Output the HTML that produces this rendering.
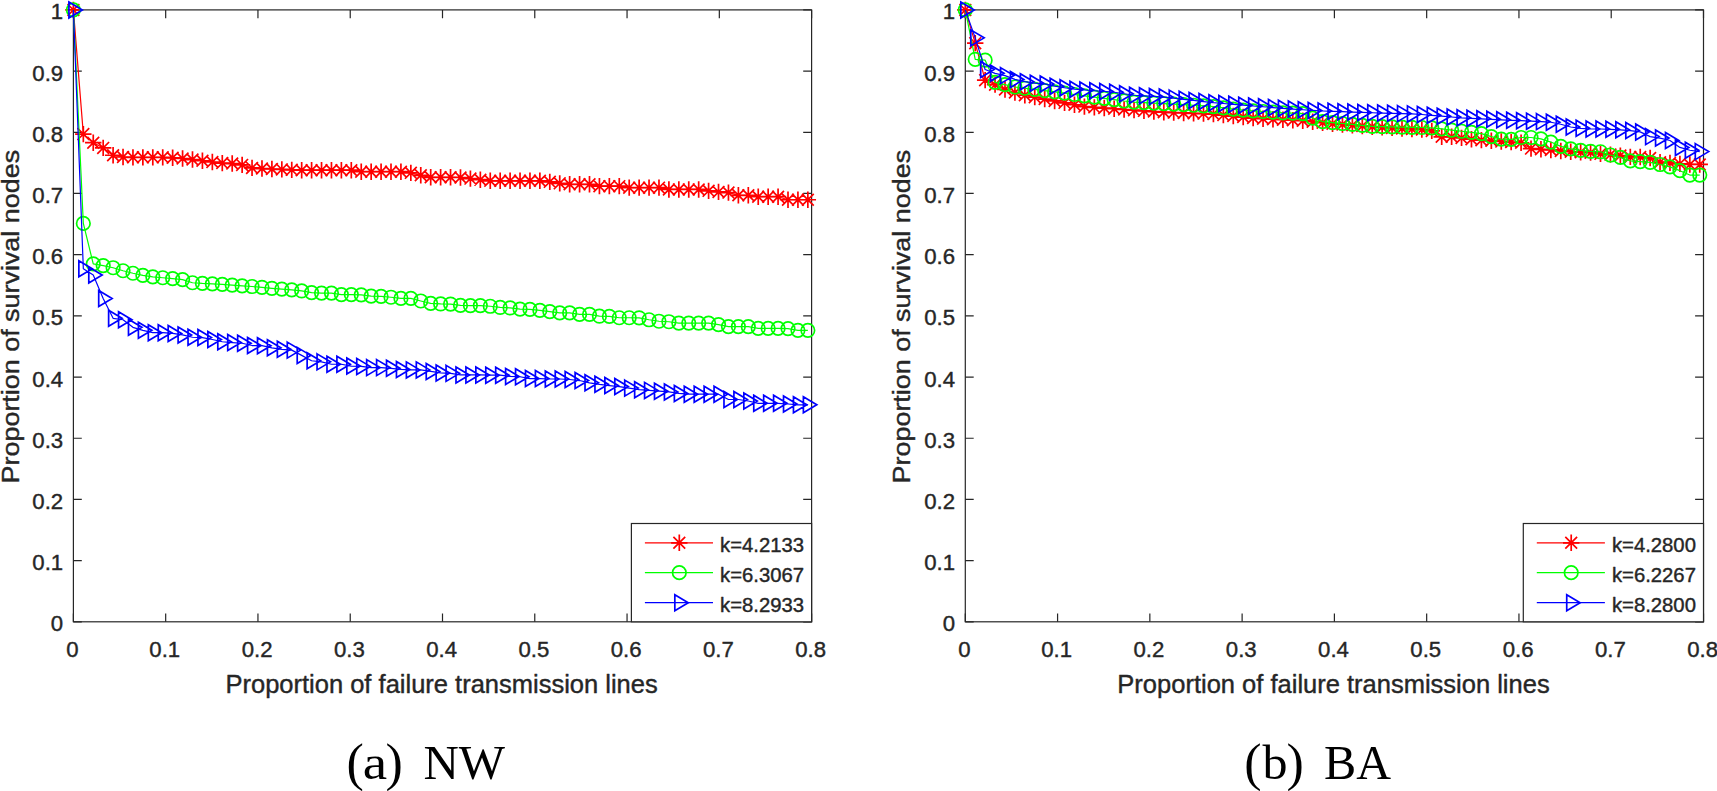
<!DOCTYPE html>
<html lang="en">
<head>
<meta charset="utf-8">
<title>Proportion of survival nodes vs. proportion of failure transmission lines</title>
<style>
html,body{margin:0;padding:0;background:#fff;}
body{width:1717px;height:791px;overflow:hidden;}
svg{display:block;}
.ax text{stroke:#262626;stroke-width:0.4px;paint-order:stroke;stroke-linejoin:round;}
</style>
</head>
<body>
<svg width="1717" height="791" viewBox="0 0 1717 791" font-family="'Liberation Sans', sans-serif">
<rect width="1717" height="791" fill="#fff"/>
<g id="chart-a" class="ax">
<rect x="73.4" y="9.9" width="738.2" height="611.9" fill="none" stroke="#262626" stroke-width="1.2"/>
<path d="M73.4 621.8v-8.4 M73.4 9.9v8.4 M165.68 621.8v-8.4 M165.68 9.9v8.4 M257.95 621.8v-8.4 M257.95 9.9v8.4 M350.23 621.8v-8.4 M350.23 9.9v8.4 M442.5 621.8v-8.4 M442.5 9.9v8.4 M534.77 621.8v-8.4 M534.77 9.9v8.4 M627.05 621.8v-8.4 M627.05 9.9v8.4 M719.33 621.8v-8.4 M719.33 9.9v8.4 M811.6 621.8v-8.4 M811.6 9.9v8.4 M73.4 621.8h8.4 M811.6 621.8h-8.4 M73.4 560.61h8.4 M811.6 560.61h-8.4 M73.4 499.42h8.4 M811.6 499.42h-8.4 M73.4 438.23h8.4 M811.6 438.23h-8.4 M73.4 377.04h8.4 M811.6 377.04h-8.4 M73.4 315.85h8.4 M811.6 315.85h-8.4 M73.4 254.66h8.4 M811.6 254.66h-8.4 M73.4 193.47h8.4 M811.6 193.47h-8.4 M73.4 132.28h8.4 M811.6 132.28h-8.4 M73.4 71.09h8.4 M811.6 71.09h-8.4 M73.4 9.9h8.4 M811.6 9.9h-8.4" stroke="#262626" stroke-width="1.2" fill="none"/>
<polyline points="73.4,9.9 83.33,134.12 93.25,142.68 103.18,147.88 113.1,155.23 123.03,157 132.95,157.37 142.88,157.37 152.8,157.37 162.73,157.37 172.65,157.82 182.58,158.48 192.5,159.57 202.43,160.76 212.35,161.98 222.28,163.11 232.2,163.53 242.13,164.88 252.05,167.9 261.98,168.55 271.9,168.99 281.83,169.42 291.75,169.86 301.68,170.22 311.6,170.22 321.53,170.22 331.45,170.22 341.38,170.22 351.3,170.22 361.23,171.69 371.15,171.69 381.08,171.69 391,171.69 400.93,171.69 410.85,172.87 420.77,175.3 430.7,177.32 440.62,177.32 450.55,177.32 460.48,177.48 470.4,178.6 480.33,179.72 490.25,180.8 500.18,180.8 510.1,180.8 520.03,180.8 529.95,180.8 539.88,180.8 549.8,181.83 559.73,183.37 569.65,184.29 579.58,184.29 589.5,184.29 599.43,186.13 609.35,186.13 619.27,186.13 629.2,187.66 639.12,187.66 649.05,187.66 658.98,187.66 668.9,189.43 678.83,189.43 688.75,189.43 698.68,189.43 708.6,190.84 718.52,191.88 728.45,192.59 738.38,195.31 748.3,195.31 758.23,196.71 768.15,196.71 778.08,196.71 788,199.77 797.93,199.77 807.85,199.77" fill="none" stroke="#f00" stroke-width="1.2" stroke-linejoin="round"/>
<path d="M65.2 9.9H81.6M73.4 1.7V18.1M67.5 4L79.3 15.8M67.5 15.8L79.3 4 M75.12 134.12H91.53M83.33 125.92V142.32M77.42 128.22L89.23 140.02M77.42 140.02L89.23 128.22 M85.05 142.68H101.45M93.25 134.48V150.88M87.35 136.78L99.15 148.58M87.35 148.58L99.15 136.78 M94.98 147.88H111.38M103.18 139.68V156.08M97.28 141.98L109.08 153.78M97.28 153.78L109.08 141.98 M104.9 155.23H121.3M113.1 147.03V163.43M107.2 149.33L119 161.13M107.2 161.13L119 149.33 M114.83 157H131.22M123.03 148.8V165.2M117.12 151.1L128.93 162.9M117.12 162.9L128.93 151.1 M124.75 157.37H141.15M132.95 149.17V165.57M127.05 151.47L138.85 163.27M127.05 163.27L138.85 151.47 M134.68 157.37H151.07M142.88 149.17V165.57M136.97 151.47L148.78 163.27M136.97 163.27L148.78 151.47 M144.6 157.37H161M152.8 149.17V165.57M146.9 151.47L158.7 163.27M146.9 163.27L158.7 151.47 M154.53 157.37H170.93M162.73 149.17V165.57M156.83 151.47L168.63 163.27M156.83 163.27L168.63 151.47 M164.45 157.82H180.85M172.65 149.62V166.02M166.75 151.92L178.55 163.72M166.75 163.72L178.55 151.92 M174.38 158.48H190.78M182.58 150.28V166.68M176.68 152.58L188.48 164.38M176.68 164.38L188.48 152.58 M184.3 159.57H200.7M192.5 151.37V167.77M186.6 153.67L198.4 165.47M186.6 165.47L198.4 153.67 M194.23 160.76H210.62M202.43 152.56V168.96M196.53 154.86L208.33 166.66M196.53 166.66L208.33 154.86 M204.15 161.98H220.55M212.35 153.78V170.18M206.45 156.08L218.25 167.88M206.45 167.88L218.25 156.08 M214.08 163.11H230.47M222.28 154.91V171.31M216.38 157.21L228.18 169.01M216.38 169.01L228.18 157.21 M224 163.53H240.4M232.2 155.33V171.73M226.3 157.63L238.1 169.43M226.3 169.43L238.1 157.63 M233.93 164.88H250.33M242.13 156.68V173.08M236.23 158.98L248.03 170.78M236.23 170.78L248.03 158.98 M243.85 167.9H260.25M252.05 159.7V176.1M246.15 162L257.95 173.8M246.15 173.8L257.95 162 M253.78 168.55H270.18M261.98 160.35V176.75M256.08 162.65L267.88 174.45M256.08 174.45L267.88 162.65 M263.7 168.99H280.1M271.9 160.79V177.19M266 163.09L277.8 174.89M266 174.89L277.8 163.09 M273.63 169.42H290.03M281.83 161.22V177.62M275.93 163.52L287.73 175.32M275.93 175.32L287.73 163.52 M283.55 169.86H299.95M291.75 161.66V178.06M285.85 163.96L297.65 175.76M285.85 175.76L297.65 163.96 M293.48 170.22H309.88M301.68 162.02V178.42M295.78 164.32L307.57 176.12M295.78 176.12L307.57 164.32 M303.4 170.22H319.8M311.6 162.02V178.42M305.7 164.32L317.5 176.12M305.7 176.12L317.5 164.32 M313.33 170.22H329.73M321.53 162.02V178.42M315.63 164.32L327.43 176.12M315.63 176.12L327.43 164.32 M323.25 170.22H339.65M331.45 162.02V178.42M325.55 164.32L337.35 176.12M325.55 176.12L337.35 164.32 M333.18 170.22H349.57M341.38 162.02V178.42M335.48 164.32L347.27 176.12M335.48 176.12L347.27 164.32 M343.1 170.22H359.5M351.3 162.02V178.42M345.4 164.32L357.2 176.12M345.4 176.12L357.2 164.32 M353.03 171.69H369.43M361.23 163.49V179.89M355.33 165.79L367.12 177.59M355.33 177.59L367.12 165.79 M362.95 171.69H379.35M371.15 163.49V179.89M365.25 165.79L377.05 177.59M365.25 177.59L377.05 165.79 M372.88 171.69H389.28M381.08 163.49V179.89M375.18 165.79L386.98 177.59M375.18 177.59L386.98 165.79 M382.8 171.69H399.2M391 163.49V179.89M385.1 165.79L396.9 177.59M385.1 177.59L396.9 165.79 M392.73 171.69H409.13M400.93 163.49V179.89M395.03 165.79L406.83 177.59M395.03 177.59L406.83 165.79 M402.65 172.87H419.05M410.85 164.67V181.07M404.95 166.97L416.75 178.77M404.95 178.77L416.75 166.97 M412.57 175.3H428.97M420.77 167.1V183.5M414.88 169.4L426.67 181.2M414.88 181.2L426.67 169.4 M422.5 177.32H438.9M430.7 169.12V185.52M424.8 171.42L436.6 183.22M424.8 183.22L436.6 171.42 M432.43 177.32H448.82M440.62 169.12V185.52M434.73 171.42L446.52 183.22M434.73 183.22L446.52 171.42 M442.35 177.32H458.75M450.55 169.12V185.52M444.65 171.42L456.45 183.22M444.65 183.22L456.45 171.42 M452.28 177.48H468.68M460.48 169.28V185.68M454.58 171.58L466.38 183.38M454.58 183.38L466.38 171.58 M462.2 178.6H478.6M470.4 170.4V186.8M464.5 172.7L476.3 184.5M464.5 184.5L476.3 172.7 M472.13 179.72H488.53M480.33 171.52V187.92M474.43 173.82L486.23 185.62M474.43 185.62L486.23 173.82 M482.05 180.8H498.45M490.25 172.6V189M484.35 174.9L496.15 186.7M484.35 186.7L496.15 174.9 M491.98 180.8H508.38M500.18 172.6V189M494.28 174.9L506.08 186.7M494.28 186.7L506.08 174.9 M501.9 180.8H518.3M510.1 172.6V189M504.2 174.9L516 186.7M504.2 186.7L516 174.9 M511.83 180.8H528.23M520.03 172.6V189M514.13 174.9L525.93 186.7M514.13 186.7L525.93 174.9 M521.75 180.8H538.15M529.95 172.6V189M524.05 174.9L535.85 186.7M524.05 186.7L535.85 174.9 M531.67 180.8H548.08M539.88 172.6V189M533.98 174.9L545.77 186.7M533.98 186.7L545.77 174.9 M541.6 181.83H558M549.8 173.63V190.03M543.9 175.93L555.7 187.73M543.9 187.73L555.7 175.93 M551.52 183.37H567.93M559.73 175.17V191.57M553.83 177.47L565.62 189.27M553.83 189.27L565.62 177.47 M561.45 184.29H577.85M569.65 176.09V192.49M563.75 178.39L575.55 190.19M563.75 190.19L575.55 178.39 M571.38 184.29H587.78M579.58 176.09V192.49M573.68 178.39L585.48 190.19M573.68 190.19L585.48 178.39 M581.3 184.29H597.7M589.5 176.09V192.49M583.6 178.39L595.4 190.19M583.6 190.19L595.4 178.39 M591.23 186.13H607.63M599.43 177.93V194.33M593.53 180.23L605.33 192.03M593.53 192.03L605.33 180.23 M601.15 186.13H617.55M609.35 177.93V194.33M603.45 180.23L615.25 192.03M603.45 192.03L615.25 180.23 M611.07 186.13H627.48M619.27 177.93V194.33M613.38 180.23L625.17 192.03M613.38 192.03L625.17 180.23 M621 187.66H637.4M629.2 179.46V195.86M623.3 181.76L635.1 193.56M623.3 193.56L635.1 181.76 M630.92 187.66H647.33M639.12 179.46V195.86M633.23 181.76L645.02 193.56M633.23 193.56L645.02 181.76 M640.85 187.66H657.25M649.05 179.46V195.86M643.15 181.76L654.95 193.56M643.15 193.56L654.95 181.76 M650.77 187.66H667.18M658.98 179.46V195.86M653.08 181.76L664.88 193.56M653.08 193.56L664.88 181.76 M660.7 189.43H677.1M668.9 181.23V197.63M663 183.53L674.8 195.33M663 195.33L674.8 183.53 M670.62 189.43H687.03M678.83 181.23V197.63M672.93 183.53L684.73 195.33M672.93 195.33L684.73 183.53 M680.55 189.43H696.95M688.75 181.23V197.63M682.85 183.53L694.65 195.33M682.85 195.33L694.65 183.53 M690.48 189.43H706.88M698.68 181.23V197.63M692.78 183.53L704.58 195.33M692.78 195.33L704.58 183.53 M700.4 190.84H716.8M708.6 182.64V199.04M702.7 184.94L714.5 196.74M702.7 196.74L714.5 184.94 M710.32 191.88H726.73M718.52 183.68V200.08M712.62 185.98L724.42 197.78M712.62 197.78L724.42 185.98 M720.25 192.59H736.65M728.45 184.39V200.79M722.55 186.69L734.35 198.49M722.55 198.49L734.35 186.69 M730.17 195.31H746.58M738.38 187.11V203.51M732.48 189.41L744.27 201.21M732.48 201.21L744.27 189.41 M740.1 195.31H756.5M748.3 187.11V203.51M742.4 189.41L754.2 201.21M742.4 201.21L754.2 189.41 M750.02 196.71H766.43M758.23 188.51V204.91M752.33 190.81L764.12 202.61M752.33 202.61L764.12 190.81 M759.95 196.71H776.35M768.15 188.51V204.91M762.25 190.81L774.05 202.61M762.25 202.61L774.05 190.81 M769.88 196.71H786.28M778.08 188.51V204.91M772.18 190.81L783.98 202.61M772.18 202.61L783.98 190.81 M779.8 199.77H796.2M788 191.57V207.97M782.1 193.87L793.9 205.67M782.1 205.67L793.9 193.87 M789.73 199.77H806.13M797.93 191.57V207.97M792.03 193.87L803.83 205.67M792.03 205.67L803.83 193.87 M799.65 199.77H816.05M807.85 191.57V207.97M801.95 193.87L813.75 205.67M801.95 205.67L813.75 193.87" fill="none" stroke="#f00" stroke-width="1.7" stroke-linejoin="miter"/>
<polyline points="73.4,9.9 83.33,223.45 93.25,263.87 103.18,265.6 113.1,267.73 123.03,270.75 132.95,273.25 142.88,275.45 152.8,276.86 162.73,277.75 172.65,278.69 182.58,279.59 192.5,282.75 202.43,283.41 212.35,283.83 222.28,284.3 232.2,285.09 242.13,285.85 252.05,286.51 261.98,287.29 271.9,288.28 281.83,289.16 291.75,289.95 301.68,290.96 311.6,292.56 321.53,293.06 331.45,293.09 341.38,294.56 351.3,294.56 361.23,294.82 371.15,296.18 381.08,296.45 391,297.23 400.93,298.41 410.85,298.41 420.77,300.98 430.7,303.37 440.62,303.97 450.55,304.04 460.48,305.45 470.4,305.57 480.33,305.61 490.25,306.27 500.18,307.47 510.1,307.95 520.03,309.06 529.95,309.42 539.88,310.44 549.8,311.62 559.73,312.88 569.65,312.95 579.58,314.44 589.5,314.44 599.43,316.21 609.35,316.39 619.27,317.75 629.2,317.75 639.12,317.79 649.05,319.76 658.98,321.23 668.9,321.73 678.83,323.07 688.75,323.07 698.68,323.07 708.6,323.1 718.52,324.59 728.45,326.56 738.38,326.56 748.3,326.67 758.23,328.39 768.15,328.39 778.08,328.39 788,328.59 797.93,330.35 807.85,330.35" fill="none" stroke="#0f0" stroke-width="1.2" stroke-linejoin="round"/>
<path d="M66.65 9.9a6.75 6.75 0 1 0 13.5 0a6.75 6.75 0 1 0 -13.5 0z M76.58 223.45a6.75 6.75 0 1 0 13.5 0a6.75 6.75 0 1 0 -13.5 0z M86.5 263.87a6.75 6.75 0 1 0 13.5 0a6.75 6.75 0 1 0 -13.5 0z M96.43 265.6a6.75 6.75 0 1 0 13.5 0a6.75 6.75 0 1 0 -13.5 0z M106.35 267.73a6.75 6.75 0 1 0 13.5 0a6.75 6.75 0 1 0 -13.5 0z M116.28 270.75a6.75 6.75 0 1 0 13.5 0a6.75 6.75 0 1 0 -13.5 0z M126.2 273.25a6.75 6.75 0 1 0 13.5 0a6.75 6.75 0 1 0 -13.5 0z M136.12 275.45a6.75 6.75 0 1 0 13.5 0a6.75 6.75 0 1 0 -13.5 0z M146.05 276.86a6.75 6.75 0 1 0 13.5 0a6.75 6.75 0 1 0 -13.5 0z M155.98 277.75a6.75 6.75 0 1 0 13.5 0a6.75 6.75 0 1 0 -13.5 0z M165.9 278.69a6.75 6.75 0 1 0 13.5 0a6.75 6.75 0 1 0 -13.5 0z M175.83 279.59a6.75 6.75 0 1 0 13.5 0a6.75 6.75 0 1 0 -13.5 0z M185.75 282.75a6.75 6.75 0 1 0 13.5 0a6.75 6.75 0 1 0 -13.5 0z M195.68 283.41a6.75 6.75 0 1 0 13.5 0a6.75 6.75 0 1 0 -13.5 0z M205.6 283.83a6.75 6.75 0 1 0 13.5 0a6.75 6.75 0 1 0 -13.5 0z M215.53 284.3a6.75 6.75 0 1 0 13.5 0a6.75 6.75 0 1 0 -13.5 0z M225.45 285.09a6.75 6.75 0 1 0 13.5 0a6.75 6.75 0 1 0 -13.5 0z M235.38 285.85a6.75 6.75 0 1 0 13.5 0a6.75 6.75 0 1 0 -13.5 0z M245.3 286.51a6.75 6.75 0 1 0 13.5 0a6.75 6.75 0 1 0 -13.5 0z M255.23 287.29a6.75 6.75 0 1 0 13.5 0a6.75 6.75 0 1 0 -13.5 0z M265.15 288.28a6.75 6.75 0 1 0 13.5 0a6.75 6.75 0 1 0 -13.5 0z M275.08 289.16a6.75 6.75 0 1 0 13.5 0a6.75 6.75 0 1 0 -13.5 0z M285 289.95a6.75 6.75 0 1 0 13.5 0a6.75 6.75 0 1 0 -13.5 0z M294.93 290.96a6.75 6.75 0 1 0 13.5 0a6.75 6.75 0 1 0 -13.5 0z M304.85 292.56a6.75 6.75 0 1 0 13.5 0a6.75 6.75 0 1 0 -13.5 0z M314.78 293.06a6.75 6.75 0 1 0 13.5 0a6.75 6.75 0 1 0 -13.5 0z M324.7 293.09a6.75 6.75 0 1 0 13.5 0a6.75 6.75 0 1 0 -13.5 0z M334.62 294.56a6.75 6.75 0 1 0 13.5 0a6.75 6.75 0 1 0 -13.5 0z M344.55 294.56a6.75 6.75 0 1 0 13.5 0a6.75 6.75 0 1 0 -13.5 0z M354.48 294.82a6.75 6.75 0 1 0 13.5 0a6.75 6.75 0 1 0 -13.5 0z M364.4 296.18a6.75 6.75 0 1 0 13.5 0a6.75 6.75 0 1 0 -13.5 0z M374.33 296.45a6.75 6.75 0 1 0 13.5 0a6.75 6.75 0 1 0 -13.5 0z M384.25 297.23a6.75 6.75 0 1 0 13.5 0a6.75 6.75 0 1 0 -13.5 0z M394.18 298.41a6.75 6.75 0 1 0 13.5 0a6.75 6.75 0 1 0 -13.5 0z M404.1 298.41a6.75 6.75 0 1 0 13.5 0a6.75 6.75 0 1 0 -13.5 0z M414.02 300.98a6.75 6.75 0 1 0 13.5 0a6.75 6.75 0 1 0 -13.5 0z M423.95 303.37a6.75 6.75 0 1 0 13.5 0a6.75 6.75 0 1 0 -13.5 0z M433.88 303.97a6.75 6.75 0 1 0 13.5 0a6.75 6.75 0 1 0 -13.5 0z M443.8 304.04a6.75 6.75 0 1 0 13.5 0a6.75 6.75 0 1 0 -13.5 0z M453.73 305.45a6.75 6.75 0 1 0 13.5 0a6.75 6.75 0 1 0 -13.5 0z M463.65 305.57a6.75 6.75 0 1 0 13.5 0a6.75 6.75 0 1 0 -13.5 0z M473.58 305.61a6.75 6.75 0 1 0 13.5 0a6.75 6.75 0 1 0 -13.5 0z M483.5 306.27a6.75 6.75 0 1 0 13.5 0a6.75 6.75 0 1 0 -13.5 0z M493.43 307.47a6.75 6.75 0 1 0 13.5 0a6.75 6.75 0 1 0 -13.5 0z M503.35 307.95a6.75 6.75 0 1 0 13.5 0a6.75 6.75 0 1 0 -13.5 0z M513.28 309.06a6.75 6.75 0 1 0 13.5 0a6.75 6.75 0 1 0 -13.5 0z M523.2 309.42a6.75 6.75 0 1 0 13.5 0a6.75 6.75 0 1 0 -13.5 0z M533.12 310.44a6.75 6.75 0 1 0 13.5 0a6.75 6.75 0 1 0 -13.5 0z M543.05 311.62a6.75 6.75 0 1 0 13.5 0a6.75 6.75 0 1 0 -13.5 0z M552.98 312.88a6.75 6.75 0 1 0 13.5 0a6.75 6.75 0 1 0 -13.5 0z M562.9 312.95a6.75 6.75 0 1 0 13.5 0a6.75 6.75 0 1 0 -13.5 0z M572.83 314.44a6.75 6.75 0 1 0 13.5 0a6.75 6.75 0 1 0 -13.5 0z M582.75 314.44a6.75 6.75 0 1 0 13.5 0a6.75 6.75 0 1 0 -13.5 0z M592.68 316.21a6.75 6.75 0 1 0 13.5 0a6.75 6.75 0 1 0 -13.5 0z M602.6 316.39a6.75 6.75 0 1 0 13.5 0a6.75 6.75 0 1 0 -13.5 0z M612.52 317.75a6.75 6.75 0 1 0 13.5 0a6.75 6.75 0 1 0 -13.5 0z M622.45 317.75a6.75 6.75 0 1 0 13.5 0a6.75 6.75 0 1 0 -13.5 0z M632.38 317.79a6.75 6.75 0 1 0 13.5 0a6.75 6.75 0 1 0 -13.5 0z M642.3 319.76a6.75 6.75 0 1 0 13.5 0a6.75 6.75 0 1 0 -13.5 0z M652.23 321.23a6.75 6.75 0 1 0 13.5 0a6.75 6.75 0 1 0 -13.5 0z M662.15 321.73a6.75 6.75 0 1 0 13.5 0a6.75 6.75 0 1 0 -13.5 0z M672.08 323.07a6.75 6.75 0 1 0 13.5 0a6.75 6.75 0 1 0 -13.5 0z M682 323.07a6.75 6.75 0 1 0 13.5 0a6.75 6.75 0 1 0 -13.5 0z M691.93 323.07a6.75 6.75 0 1 0 13.5 0a6.75 6.75 0 1 0 -13.5 0z M701.85 323.1a6.75 6.75 0 1 0 13.5 0a6.75 6.75 0 1 0 -13.5 0z M711.77 324.59a6.75 6.75 0 1 0 13.5 0a6.75 6.75 0 1 0 -13.5 0z M721.7 326.56a6.75 6.75 0 1 0 13.5 0a6.75 6.75 0 1 0 -13.5 0z M731.62 326.56a6.75 6.75 0 1 0 13.5 0a6.75 6.75 0 1 0 -13.5 0z M741.55 326.67a6.75 6.75 0 1 0 13.5 0a6.75 6.75 0 1 0 -13.5 0z M751.48 328.39a6.75 6.75 0 1 0 13.5 0a6.75 6.75 0 1 0 -13.5 0z M761.4 328.39a6.75 6.75 0 1 0 13.5 0a6.75 6.75 0 1 0 -13.5 0z M771.33 328.39a6.75 6.75 0 1 0 13.5 0a6.75 6.75 0 1 0 -13.5 0z M781.25 328.59a6.75 6.75 0 1 0 13.5 0a6.75 6.75 0 1 0 -13.5 0z M791.18 330.35a6.75 6.75 0 1 0 13.5 0a6.75 6.75 0 1 0 -13.5 0z M801.1 330.35a6.75 6.75 0 1 0 13.5 0a6.75 6.75 0 1 0 -13.5 0z" fill="none" stroke="#0f0" stroke-width="1.7" stroke-linejoin="miter"/>
<polyline points="73.4,9.9 83.33,268.73 93.25,275.04 103.18,298.59 113.1,318.3 123.03,319.77 132.95,327.35 142.88,330.35 152.8,332.68 162.73,332.68 172.65,333.41 182.58,334.94 192.5,337.27 202.43,337.57 212.35,339.47 222.28,341.73 232.2,342.53 242.13,343.26 252.05,345.53 261.98,345.71 271.9,347.79 281.83,349.32 291.75,350.12 301.68,355.38 311.6,360.76 321.53,361.86 331.45,364.25 341.38,364.25 351.3,366.09 361.23,366.39 371.15,367.62 381.08,367.62 391,368.35 400.93,369.45 410.85,369.88 420.77,369.88 430.7,371.41 440.62,372.94 450.55,373.37 460.48,374.9 470.4,374.9 480.33,374.9 490.25,375.2 500.18,375.2 510.1,376.43 520.03,376.73 529.95,378.57 539.88,378.57 549.8,379 559.73,379 569.65,379.49 579.58,380.53 589.5,382.79 599.43,384.32 609.35,385.55 619.27,386.59 629.2,388.12 639.12,389.65 649.05,390.38 658.98,391.17 668.9,391.91 678.83,393.44 688.75,394.17 698.68,394.17 708.6,394.17 718.52,394.17 728.45,399.5 738.38,399.5 748.3,401.03 758.23,403.29 768.15,403.29 778.08,403.29 788,404.02 797.93,404.82 807.85,404.82" fill="none" stroke="#00f" stroke-width="1.2" stroke-linejoin="round"/>
<path d="M68.93 1.9L82.33 9.9L68.93 17.9Z M78.86 260.73L92.26 268.73L78.86 276.73Z M88.78 267.04L102.18 275.04L88.78 283.04Z M98.71 290.59L112.11 298.59L98.71 306.59Z M108.63 310.3L122.03 318.3L108.63 326.3Z M118.56 311.77L131.96 319.77L118.56 327.77Z M128.48 319.35L141.88 327.35L128.48 335.35Z M138.41 322.35L151.81 330.35L138.41 338.35Z M148.33 324.68L161.73 332.68L148.33 340.68Z M158.26 324.68L171.66 332.68L158.26 340.68Z M168.18 325.41L181.58 333.41L168.18 341.41Z M178.11 326.94L191.51 334.94L178.11 342.94Z M188.03 329.27L201.43 337.27L188.03 345.27Z M197.96 329.57L211.36 337.57L197.96 345.57Z M207.88 331.47L221.28 339.47L207.88 347.47Z M217.81 333.73L231.21 341.73L217.81 349.73Z M227.73 334.53L241.13 342.53L227.73 350.53Z M237.66 335.26L251.06 343.26L237.66 351.26Z M247.58 337.53L260.98 345.53L247.58 353.53Z M257.51 337.71L270.91 345.71L257.51 353.71Z M267.43 339.79L280.83 347.79L267.43 355.79Z M277.36 341.32L290.76 349.32L277.36 357.32Z M287.28 342.12L300.68 350.12L287.28 358.12Z M297.21 347.38L310.61 355.38L297.21 363.38Z M307.13 352.76L320.53 360.76L307.13 368.76Z M317.06 353.86L330.46 361.86L317.06 369.86Z M326.98 356.25L340.38 364.25L326.98 372.25Z M336.91 356.25L350.31 364.25L336.91 372.25Z M346.83 358.09L360.23 366.09L346.83 374.09Z M356.76 358.39L370.16 366.39L356.76 374.39Z M366.68 359.62L380.08 367.62L366.68 375.62Z M376.61 359.62L390.01 367.62L376.61 375.62Z M386.53 360.35L399.93 368.35L386.53 376.35Z M396.46 361.45L409.86 369.45L396.46 377.45Z M406.38 361.88L419.78 369.88L406.38 377.88Z M416.31 361.88L429.71 369.88L416.31 377.88Z M426.23 363.41L439.63 371.41L426.23 379.41Z M436.16 364.94L449.56 372.94L436.16 380.94Z M446.08 365.37L459.48 373.37L446.08 381.37Z M456.01 366.9L469.41 374.9L456.01 382.9Z M465.93 366.9L479.33 374.9L465.93 382.9Z M475.86 366.9L489.26 374.9L475.86 382.9Z M485.78 367.2L499.18 375.2L485.78 383.2Z M495.71 367.2L509.11 375.2L495.71 383.2Z M505.63 368.43L519.03 376.43L505.63 384.43Z M515.56 368.73L528.96 376.73L515.56 384.73Z M525.48 370.57L538.88 378.57L525.48 386.57Z M535.41 370.57L548.81 378.57L535.41 386.57Z M545.33 371L558.73 379L545.33 387Z M555.26 371L568.66 379L555.26 387Z M565.18 371.49L578.58 379.49L565.18 387.49Z M575.11 372.53L588.51 380.53L575.11 388.53Z M585.03 374.79L598.43 382.79L585.03 390.79Z M594.96 376.32L608.36 384.32L594.96 392.32Z M604.88 377.55L618.28 385.55L604.88 393.55Z M614.81 378.59L628.21 386.59L614.81 394.59Z M624.73 380.12L638.13 388.12L624.73 396.12Z M634.66 381.65L648.06 389.65L634.66 397.65Z M644.58 382.38L657.98 390.38L644.58 398.38Z M654.51 383.17L667.91 391.17L654.51 399.17Z M664.43 383.91L677.83 391.91L664.43 399.91Z M674.36 385.44L687.76 393.44L674.36 401.44Z M684.28 386.17L697.68 394.17L684.28 402.17Z M694.21 386.17L707.61 394.17L694.21 402.17Z M704.13 386.17L717.53 394.17L704.13 402.17Z M714.06 386.17L727.46 394.17L714.06 402.17Z M723.98 391.5L737.38 399.5L723.98 407.5Z M733.91 391.5L747.31 399.5L733.91 407.5Z M743.83 393.03L757.23 401.03L743.83 409.03Z M753.76 395.29L767.16 403.29L753.76 411.29Z M763.68 395.29L777.08 403.29L763.68 411.29Z M773.61 395.29L787.01 403.29L773.61 411.29Z M783.53 396.02L796.93 404.02L783.53 412.02Z M793.46 396.82L806.86 404.82L793.46 412.82Z M803.38 396.82L816.78 404.82L803.38 412.82Z" fill="none" stroke="#00f" stroke-width="1.7" stroke-linejoin="miter"/>
<g font-size="22.2" fill="#262626">
<text x="72.5" y="656.6" text-anchor="middle">0</text>
<text x="164.78" y="656.6" text-anchor="middle">0.1</text>
<text x="257.05" y="656.6" text-anchor="middle">0.2</text>
<text x="349.33" y="656.6" text-anchor="middle">0.3</text>
<text x="441.6" y="656.6" text-anchor="middle">0.4</text>
<text x="533.88" y="656.6" text-anchor="middle">0.5</text>
<text x="626.15" y="656.6" text-anchor="middle">0.6</text>
<text x="718.43" y="656.6" text-anchor="middle">0.7</text>
<text x="810.7" y="656.6" text-anchor="middle">0.8</text>
<text x="63.2" y="631.3" text-anchor="end">0</text>
<text x="63.2" y="570.11" text-anchor="end">0.1</text>
<text x="63.2" y="508.92" text-anchor="end">0.2</text>
<text x="63.2" y="447.73" text-anchor="end">0.3</text>
<text x="63.2" y="386.54" text-anchor="end">0.4</text>
<text x="63.2" y="325.35" text-anchor="end">0.5</text>
<text x="63.2" y="264.16" text-anchor="end">0.6</text>
<text x="63.2" y="202.97" text-anchor="end">0.7</text>
<text x="63.2" y="141.78" text-anchor="end">0.8</text>
<text x="63.2" y="80.59" text-anchor="end">0.9</text>
<text x="63.2" y="19.4" text-anchor="end">1</text>
</g>
<text x="441.6" y="693" font-size="25.5" text-anchor="middle" fill="#262626">Proportion of failure transmission lines</text>
<text transform="translate(18.5 316.65) rotate(-90)" font-size="24.6" text-anchor="middle" textLength="333.5" lengthAdjust="spacingAndGlyphs" fill="#262626">Proportion of survival nodes</text>
<rect x="631.4" y="523.5" width="180.2" height="98.3" fill="#fff" stroke="#262626" stroke-width="1.2"/>
<path d="M644.9 542.8H713" stroke="#f00" stroke-width="1.2"/>
<path d="M671.1 542.8H687.5M679.3 534.6V551M673.4 536.9L685.2 548.7M673.4 548.7L685.2 536.9" fill="none" stroke="#f00" stroke-width="1.7"/>
<text x="720" y="551.6" font-size="20.3" fill="#262626">k=4.2133</text>
<path d="M644.9 572.7H713" stroke="#0f0" stroke-width="1.2"/>
<path d="M672.55 572.7a6.75 6.75 0 1 0 13.5 0a6.75 6.75 0 1 0 -13.5 0z" fill="none" stroke="#0f0" stroke-width="1.7"/>
<text x="720" y="581.5" font-size="20.3" fill="#262626">k=6.3067</text>
<path d="M644.9 602.7H713" stroke="#00f" stroke-width="1.2"/>
<path d="M674.83 594.7L688.23 602.7L674.83 610.7Z" fill="none" stroke="#00f" stroke-width="1.7"/>
<text x="720" y="611.5" font-size="20.3" fill="#262626">k=8.2933</text>
</g><g id="chart-b" class="ax">
<rect x="965.3" y="9.9" width="738.2" height="611.9" fill="none" stroke="#262626" stroke-width="1.2"/>
<path d="M965.3 621.8v-8.4 M965.3 9.9v8.4 M1057.58 621.8v-8.4 M1057.58 9.9v8.4 M1149.85 621.8v-8.4 M1149.85 9.9v8.4 M1242.12 621.8v-8.4 M1242.12 9.9v8.4 M1334.4 621.8v-8.4 M1334.4 9.9v8.4 M1426.67 621.8v-8.4 M1426.67 9.9v8.4 M1518.95 621.8v-8.4 M1518.95 9.9v8.4 M1611.22 621.8v-8.4 M1611.22 9.9v8.4 M1703.5 621.8v-8.4 M1703.5 9.9v8.4 M965.3 621.8h8.4 M1703.5 621.8h-8.4 M965.3 560.61h8.4 M1703.5 560.61h-8.4 M965.3 499.42h8.4 M1703.5 499.42h-8.4 M965.3 438.23h8.4 M1703.5 438.23h-8.4 M965.3 377.04h8.4 M1703.5 377.04h-8.4 M965.3 315.85h8.4 M1703.5 315.85h-8.4 M965.3 254.66h8.4 M1703.5 254.66h-8.4 M965.3 193.47h8.4 M1703.5 193.47h-8.4 M965.3 132.28h8.4 M1703.5 132.28h-8.4 M965.3 71.09h8.4 M1703.5 71.09h-8.4 M965.3 9.9h8.4 M1703.5 9.9h-8.4" stroke="#262626" stroke-width="1.2" fill="none"/>
<polyline points="965.3,9.9 975.22,43.13 985.15,80.15 995.07,84.67 1005,89.45 1014.92,92.51 1024.85,95.26 1034.77,97.15 1044.7,99.05 1054.62,100.95 1064.55,102.85 1074.47,104.76 1084.4,106.61 1094.33,107.33 1104.25,108.05 1114.17,108.77 1124.1,109.49 1134.03,110.17 1143.95,110.85 1153.88,111.53 1163.8,112.22 1173.72,112.61 1183.65,112.94 1193.58,113.28 1203.5,113.61 1213.42,114.1 1223.35,115.09 1233.28,116.07 1243.2,117.06 1253.12,118.04 1263.05,118.71 1272.97,119.21 1282.9,119.7 1292.83,120.2 1302.75,120.73 1312.67,121.73 1322.6,122.73 1332.53,123.72 1342.45,124.47 1352.38,125.21 1362.3,125.96 1372.22,126.7 1382.15,127.31 1392.08,127.89 1402,128.45 1411.92,128.95 1421.85,129.45 1431.78,130.91 1441.7,136.81 1451.62,136.81 1461.55,137.91 1471.47,139.2 1481.4,140.14 1491.33,140.78 1501.25,141.43 1511.17,142.1 1521.1,142.76 1531.03,148.61 1540.95,149.28 1550.88,149.95 1560.8,150.94 1570.72,151.76 1580.65,152.19 1590.58,152.66 1600.5,153.86 1610.42,154.61 1620.35,155.61 1630.28,156.88 1640.2,156.95 1650.12,158.07 1660.05,162.22 1669.97,162.91 1679.9,163.86 1689.83,164.47 1699.75,164.47" fill="none" stroke="#f00" stroke-width="1.2" stroke-linejoin="round"/>
<path d="M957.1 9.9H973.5M965.3 1.7V18.1M959.4 4L971.2 15.8M959.4 15.8L971.2 4 M967.02 43.13H983.42M975.22 34.93V51.33M969.32 37.23L981.12 49.03M969.32 49.03L981.12 37.23 M976.95 80.15H993.35M985.15 71.95V88.35M979.25 74.25L991.05 86.05M979.25 86.05L991.05 74.25 M986.87 84.67H1003.27M995.07 76.47V92.87M989.17 78.77L1000.97 90.57M989.17 90.57L1000.97 78.77 M996.8 89.45H1013.2M1005 81.25V97.65M999.1 83.55L1010.9 95.35M999.1 95.35L1010.9 83.55 M1006.72 92.51H1023.12M1014.92 84.31V100.71M1009.02 86.61L1020.82 98.41M1009.02 98.41L1020.82 86.61 M1016.65 95.26H1033.05M1024.85 87.06V103.46M1018.95 89.36L1030.75 101.16M1018.95 101.16L1030.75 89.36 M1026.57 97.15H1042.97M1034.77 88.95V105.35M1028.87 91.25L1040.67 103.05M1028.87 103.05L1040.67 91.25 M1036.5 99.05H1052.9M1044.7 90.85V107.25M1038.8 93.15L1050.6 104.95M1038.8 104.95L1050.6 93.15 M1046.42 100.95H1062.83M1054.62 92.75V109.15M1048.72 95.05L1060.53 106.85M1048.72 106.85L1060.53 95.05 M1056.35 102.85H1072.75M1064.55 94.65V111.05M1058.65 96.95L1070.45 108.75M1058.65 108.75L1070.45 96.95 M1066.27 104.76H1082.67M1074.47 96.56V112.96M1068.57 98.86L1080.38 110.66M1068.57 110.66L1080.38 98.86 M1076.2 106.61H1092.6M1084.4 98.41V114.81M1078.5 100.71L1090.3 112.51M1078.5 112.51L1090.3 100.71 M1086.12 107.33H1102.53M1094.33 99.13V115.53M1088.42 101.43L1100.23 113.23M1088.42 113.23L1100.23 101.43 M1096.05 108.05H1112.45M1104.25 99.85V116.25M1098.35 102.15L1110.15 113.95M1098.35 113.95L1110.15 102.15 M1105.97 108.77H1122.38M1114.17 100.57V116.97M1108.27 102.87L1120.08 114.67M1108.27 114.67L1120.08 102.87 M1115.9 109.49H1132.3M1124.1 101.29V117.69M1118.2 103.59L1130 115.39M1118.2 115.39L1130 103.59 M1125.83 110.17H1142.23M1134.03 101.97V118.37M1128.12 104.27L1139.93 116.07M1128.12 116.07L1139.93 104.27 M1135.75 110.85H1152.15M1143.95 102.65V119.05M1138.05 104.95L1149.85 116.75M1138.05 116.75L1149.85 104.95 M1145.67 111.53H1162.08M1153.88 103.33V119.73M1147.97 105.63L1159.78 117.43M1147.97 117.43L1159.78 105.63 M1155.6 112.22H1172M1163.8 104.02V120.42M1157.9 106.32L1169.7 118.12M1157.9 118.12L1169.7 106.32 M1165.52 112.61H1181.92M1173.72 104.41V120.81M1167.82 106.71L1179.62 118.51M1167.82 118.51L1179.62 106.71 M1175.45 112.94H1191.85M1183.65 104.74V121.14M1177.75 107.04L1189.55 118.84M1177.75 118.84L1189.55 107.04 M1185.38 113.28H1201.78M1193.58 105.08V121.48M1187.67 107.38L1199.48 119.18M1187.67 119.18L1199.48 107.38 M1195.3 113.61H1211.7M1203.5 105.41V121.81M1197.6 107.71L1209.4 119.51M1197.6 119.51L1209.4 107.71 M1205.22 114.1H1221.62M1213.42 105.9V122.3M1207.52 108.2L1219.33 120M1207.52 120L1219.33 108.2 M1215.15 115.09H1231.55M1223.35 106.89V123.29M1217.45 109.19L1229.25 120.99M1217.45 120.99L1229.25 109.19 M1225.08 116.07H1241.48M1233.28 107.87V124.27M1227.38 110.17L1239.18 121.97M1227.38 121.97L1239.18 110.17 M1235 117.06H1251.4M1243.2 108.86V125.26M1237.3 111.16L1249.1 122.96M1237.3 122.96L1249.1 111.16 M1244.92 118.04H1261.33M1253.12 109.84V126.24M1247.22 112.14L1259.03 123.94M1247.22 123.94L1259.03 112.14 M1254.85 118.71H1271.25M1263.05 110.51V126.91M1257.15 112.81L1268.95 124.61M1257.15 124.61L1268.95 112.81 M1264.77 119.21H1281.17M1272.97 111.01V127.41M1267.07 113.31L1278.88 125.11M1267.07 125.11L1278.88 113.31 M1274.7 119.7H1291.1M1282.9 111.5V127.9M1277 113.8L1288.8 125.6M1277 125.6L1288.8 113.8 M1284.62 120.2H1301.03M1292.83 112V128.4M1286.92 114.3L1298.73 126.1M1286.92 126.1L1298.73 114.3 M1294.55 120.73H1310.95M1302.75 112.53V128.93M1296.85 114.83L1308.65 126.63M1296.85 126.63L1308.65 114.83 M1304.47 121.73H1320.88M1312.67 113.53V129.93M1306.77 115.83L1318.58 127.63M1306.77 127.63L1318.58 115.83 M1314.4 122.73H1330.8M1322.6 114.53V130.93M1316.7 116.83L1328.5 128.63M1316.7 128.63L1328.5 116.83 M1324.33 123.72H1340.73M1332.53 115.52V131.92M1326.62 117.82L1338.43 129.62M1326.62 129.62L1338.43 117.82 M1334.25 124.47H1350.65M1342.45 116.27V132.67M1336.55 118.57L1348.35 130.37M1336.55 130.37L1348.35 118.57 M1344.17 125.21H1360.58M1352.38 117.01V133.41M1346.47 119.31L1358.28 131.11M1346.47 131.11L1358.28 119.31 M1354.1 125.96H1370.5M1362.3 117.76V134.16M1356.4 120.06L1368.2 131.86M1356.4 131.86L1368.2 120.06 M1364.02 126.7H1380.42M1372.22 118.5V134.9M1366.32 120.8L1378.12 132.6M1366.32 132.6L1378.12 120.8 M1373.95 127.31H1390.35M1382.15 119.11V135.51M1376.25 121.41L1388.05 133.21M1376.25 133.21L1388.05 121.41 M1383.88 127.89H1400.28M1392.08 119.69V136.09M1386.17 121.99L1397.98 133.79M1386.17 133.79L1397.98 121.99 M1393.8 128.45H1410.2M1402 120.25V136.65M1396.1 122.55L1407.9 134.35M1396.1 134.35L1407.9 122.55 M1403.72 128.95H1420.12M1411.92 120.75V137.15M1406.02 123.05L1417.83 134.85M1406.02 134.85L1417.83 123.05 M1413.65 129.45H1430.05M1421.85 121.25V137.65M1415.95 123.55L1427.75 135.35M1415.95 135.35L1427.75 123.55 M1423.58 130.91H1439.98M1431.78 122.71V139.11M1425.88 125.01L1437.68 136.81M1425.88 136.81L1437.68 125.01 M1433.5 136.81H1449.9M1441.7 128.61V145.01M1435.8 130.91L1447.6 142.71M1435.8 142.71L1447.6 130.91 M1443.42 136.81H1459.83M1451.62 128.61V145.01M1445.72 130.91L1457.53 142.71M1445.72 142.71L1457.53 130.91 M1453.35 137.91H1469.75M1461.55 129.71V146.11M1455.65 132.01L1467.45 143.81M1455.65 143.81L1467.45 132.01 M1463.27 139.2H1479.67M1471.47 131V147.4M1465.57 133.3L1477.38 145.1M1465.57 145.1L1477.38 133.3 M1473.2 140.14H1489.6M1481.4 131.94V148.34M1475.5 134.24L1487.3 146.04M1475.5 146.04L1487.3 134.24 M1483.12 140.78H1499.53M1491.33 132.58V148.98M1485.42 134.88L1497.23 146.68M1485.42 146.68L1497.23 134.88 M1493.05 141.43H1509.45M1501.25 133.23V149.63M1495.35 135.53L1507.15 147.33M1495.35 147.33L1507.15 135.53 M1502.97 142.1H1519.38M1511.17 133.9V150.3M1505.27 136.2L1517.08 148M1505.27 148L1517.08 136.2 M1512.9 142.76H1529.3M1521.1 134.56V150.96M1515.2 136.86L1527 148.66M1515.2 148.66L1527 136.86 M1522.83 148.61H1539.23M1531.03 140.41V156.81M1525.12 142.71L1536.93 154.51M1525.12 154.51L1536.93 142.71 M1532.75 149.28H1549.15M1540.95 141.08V157.48M1535.05 143.38L1546.85 155.18M1535.05 155.18L1546.85 143.38 M1542.67 149.95H1559.08M1550.88 141.75V158.15M1544.97 144.05L1556.78 155.85M1544.97 155.85L1556.78 144.05 M1552.6 150.94H1569M1560.8 142.74V159.14M1554.9 145.04L1566.7 156.84M1554.9 156.84L1566.7 145.04 M1562.52 151.76H1578.92M1570.72 143.56V159.96M1564.82 145.86L1576.62 157.66M1564.82 157.66L1576.62 145.86 M1572.45 152.19H1588.85M1580.65 143.99V160.39M1574.75 146.29L1586.55 158.09M1574.75 158.09L1586.55 146.29 M1582.38 152.66H1598.78M1590.58 144.46V160.86M1584.67 146.76L1596.48 158.56M1584.67 158.56L1596.48 146.76 M1592.3 153.86H1608.7M1600.5 145.66V162.06M1594.6 147.96L1606.4 159.76M1594.6 159.76L1606.4 147.96 M1602.22 154.61H1618.62M1610.42 146.41V162.81M1604.52 148.71L1616.33 160.51M1604.52 160.51L1616.33 148.71 M1612.15 155.61H1628.55M1620.35 147.41V163.81M1614.45 149.71L1626.25 161.51M1614.45 161.51L1626.25 149.71 M1622.08 156.88H1638.48M1630.28 148.68V165.08M1624.38 150.98L1636.18 162.78M1624.38 162.78L1636.18 150.98 M1632 156.95H1648.4M1640.2 148.75V165.15M1634.3 151.05L1646.1 162.85M1634.3 162.85L1646.1 151.05 M1641.92 158.07H1658.33M1650.12 149.87V166.27M1644.22 152.17L1656.03 163.97M1644.22 163.97L1656.03 152.17 M1651.85 162.22H1668.25M1660.05 154.02V170.42M1654.15 156.32L1665.95 168.12M1654.15 168.12L1665.95 156.32 M1661.77 162.91H1678.17M1669.97 154.71V171.11M1664.07 157.01L1675.88 168.81M1664.07 168.81L1675.88 157.01 M1671.7 163.86H1688.1M1679.9 155.66V172.06M1674 157.96L1685.8 169.76M1674 169.76L1685.8 157.96 M1681.62 164.47H1698.03M1689.83 156.27V172.67M1683.92 158.57L1695.73 170.37M1683.92 170.37L1695.73 158.57 M1691.55 164.47H1707.95M1699.75 156.27V172.67M1693.85 158.57L1705.65 170.37M1693.85 170.37L1705.65 158.57" fill="none" stroke="#f00" stroke-width="1.7" stroke-linejoin="miter"/>
<polyline points="965.3,9.9 975.22,59.28 985.15,60.2 995.07,82.41 1005,84.67 1014.92,87 1024.85,88.23 1034.77,89.47 1044.7,90.71 1054.62,91.95 1064.55,93.19 1074.47,94.49 1084.4,95.8 1094.33,97.1 1104.25,98.4 1114.17,99.7 1124.1,101.01 1134.03,102.05 1143.95,102.55 1153.88,103.05 1163.8,103.55 1173.72,104.05 1183.65,104.64 1193.58,105.24 1203.5,105.83 1213.42,106.58 1223.35,107.82 1233.28,109.05 1243.2,110.19 1253.12,110.84 1263.05,111.49 1272.97,112.15 1282.9,112.8 1292.83,113.16 1302.75,113.64 1312.67,118.06 1322.6,121.66 1332.53,122.59 1342.45,123.52 1352.38,124.45 1362.3,125.37 1372.22,126.3 1382.15,126.64 1392.08,126.86 1402,127.07 1411.92,127.29 1421.85,127.5 1431.78,127.81 1441.7,128.92 1451.62,130.04 1461.55,131.24 1471.47,132.43 1481.4,133.58 1491.33,136.56 1501.25,139.14 1511.17,139.3 1521.1,137.48 1531.03,137.51 1540.95,138.94 1550.88,142.07 1560.8,146.4 1570.72,148.9 1580.65,150.3 1590.58,151.28 1600.5,151.77 1610.42,155.02 1620.35,157.43 1630.28,160.87 1640.2,161.53 1650.12,162.4 1660.05,164.52 1669.97,166.83 1679.9,170.68 1689.83,175.05 1699.75,175.05" fill="none" stroke="#0f0" stroke-width="1.2" stroke-linejoin="round"/>
<path d="M958.55 9.9a6.75 6.75 0 1 0 13.5 0a6.75 6.75 0 1 0 -13.5 0z M968.47 59.28a6.75 6.75 0 1 0 13.5 0a6.75 6.75 0 1 0 -13.5 0z M978.4 60.2a6.75 6.75 0 1 0 13.5 0a6.75 6.75 0 1 0 -13.5 0z M988.32 82.41a6.75 6.75 0 1 0 13.5 0a6.75 6.75 0 1 0 -13.5 0z M998.25 84.67a6.75 6.75 0 1 0 13.5 0a6.75 6.75 0 1 0 -13.5 0z M1008.17 87a6.75 6.75 0 1 0 13.5 0a6.75 6.75 0 1 0 -13.5 0z M1018.1 88.23a6.75 6.75 0 1 0 13.5 0a6.75 6.75 0 1 0 -13.5 0z M1028.02 89.47a6.75 6.75 0 1 0 13.5 0a6.75 6.75 0 1 0 -13.5 0z M1037.95 90.71a6.75 6.75 0 1 0 13.5 0a6.75 6.75 0 1 0 -13.5 0z M1047.88 91.95a6.75 6.75 0 1 0 13.5 0a6.75 6.75 0 1 0 -13.5 0z M1057.8 93.19a6.75 6.75 0 1 0 13.5 0a6.75 6.75 0 1 0 -13.5 0z M1067.72 94.49a6.75 6.75 0 1 0 13.5 0a6.75 6.75 0 1 0 -13.5 0z M1077.65 95.8a6.75 6.75 0 1 0 13.5 0a6.75 6.75 0 1 0 -13.5 0z M1087.58 97.1a6.75 6.75 0 1 0 13.5 0a6.75 6.75 0 1 0 -13.5 0z M1097.5 98.4a6.75 6.75 0 1 0 13.5 0a6.75 6.75 0 1 0 -13.5 0z M1107.42 99.7a6.75 6.75 0 1 0 13.5 0a6.75 6.75 0 1 0 -13.5 0z M1117.35 101.01a6.75 6.75 0 1 0 13.5 0a6.75 6.75 0 1 0 -13.5 0z M1127.28 102.05a6.75 6.75 0 1 0 13.5 0a6.75 6.75 0 1 0 -13.5 0z M1137.2 102.55a6.75 6.75 0 1 0 13.5 0a6.75 6.75 0 1 0 -13.5 0z M1147.12 103.05a6.75 6.75 0 1 0 13.5 0a6.75 6.75 0 1 0 -13.5 0z M1157.05 103.55a6.75 6.75 0 1 0 13.5 0a6.75 6.75 0 1 0 -13.5 0z M1166.97 104.05a6.75 6.75 0 1 0 13.5 0a6.75 6.75 0 1 0 -13.5 0z M1176.9 104.64a6.75 6.75 0 1 0 13.5 0a6.75 6.75 0 1 0 -13.5 0z M1186.83 105.24a6.75 6.75 0 1 0 13.5 0a6.75 6.75 0 1 0 -13.5 0z M1196.75 105.83a6.75 6.75 0 1 0 13.5 0a6.75 6.75 0 1 0 -13.5 0z M1206.67 106.58a6.75 6.75 0 1 0 13.5 0a6.75 6.75 0 1 0 -13.5 0z M1216.6 107.82a6.75 6.75 0 1 0 13.5 0a6.75 6.75 0 1 0 -13.5 0z M1226.53 109.05a6.75 6.75 0 1 0 13.5 0a6.75 6.75 0 1 0 -13.5 0z M1236.45 110.19a6.75 6.75 0 1 0 13.5 0a6.75 6.75 0 1 0 -13.5 0z M1246.38 110.84a6.75 6.75 0 1 0 13.5 0a6.75 6.75 0 1 0 -13.5 0z M1256.3 111.49a6.75 6.75 0 1 0 13.5 0a6.75 6.75 0 1 0 -13.5 0z M1266.22 112.15a6.75 6.75 0 1 0 13.5 0a6.75 6.75 0 1 0 -13.5 0z M1276.15 112.8a6.75 6.75 0 1 0 13.5 0a6.75 6.75 0 1 0 -13.5 0z M1286.08 113.16a6.75 6.75 0 1 0 13.5 0a6.75 6.75 0 1 0 -13.5 0z M1296 113.64a6.75 6.75 0 1 0 13.5 0a6.75 6.75 0 1 0 -13.5 0z M1305.92 118.06a6.75 6.75 0 1 0 13.5 0a6.75 6.75 0 1 0 -13.5 0z M1315.85 121.66a6.75 6.75 0 1 0 13.5 0a6.75 6.75 0 1 0 -13.5 0z M1325.78 122.59a6.75 6.75 0 1 0 13.5 0a6.75 6.75 0 1 0 -13.5 0z M1335.7 123.52a6.75 6.75 0 1 0 13.5 0a6.75 6.75 0 1 0 -13.5 0z M1345.62 124.45a6.75 6.75 0 1 0 13.5 0a6.75 6.75 0 1 0 -13.5 0z M1355.55 125.37a6.75 6.75 0 1 0 13.5 0a6.75 6.75 0 1 0 -13.5 0z M1365.47 126.3a6.75 6.75 0 1 0 13.5 0a6.75 6.75 0 1 0 -13.5 0z M1375.4 126.64a6.75 6.75 0 1 0 13.5 0a6.75 6.75 0 1 0 -13.5 0z M1385.33 126.86a6.75 6.75 0 1 0 13.5 0a6.75 6.75 0 1 0 -13.5 0z M1395.25 127.07a6.75 6.75 0 1 0 13.5 0a6.75 6.75 0 1 0 -13.5 0z M1405.17 127.29a6.75 6.75 0 1 0 13.5 0a6.75 6.75 0 1 0 -13.5 0z M1415.1 127.5a6.75 6.75 0 1 0 13.5 0a6.75 6.75 0 1 0 -13.5 0z M1425.03 127.81a6.75 6.75 0 1 0 13.5 0a6.75 6.75 0 1 0 -13.5 0z M1434.95 128.92a6.75 6.75 0 1 0 13.5 0a6.75 6.75 0 1 0 -13.5 0z M1444.88 130.04a6.75 6.75 0 1 0 13.5 0a6.75 6.75 0 1 0 -13.5 0z M1454.8 131.24a6.75 6.75 0 1 0 13.5 0a6.75 6.75 0 1 0 -13.5 0z M1464.72 132.43a6.75 6.75 0 1 0 13.5 0a6.75 6.75 0 1 0 -13.5 0z M1474.65 133.58a6.75 6.75 0 1 0 13.5 0a6.75 6.75 0 1 0 -13.5 0z M1484.58 136.56a6.75 6.75 0 1 0 13.5 0a6.75 6.75 0 1 0 -13.5 0z M1494.5 139.14a6.75 6.75 0 1 0 13.5 0a6.75 6.75 0 1 0 -13.5 0z M1504.42 139.3a6.75 6.75 0 1 0 13.5 0a6.75 6.75 0 1 0 -13.5 0z M1514.35 137.48a6.75 6.75 0 1 0 13.5 0a6.75 6.75 0 1 0 -13.5 0z M1524.28 137.51a6.75 6.75 0 1 0 13.5 0a6.75 6.75 0 1 0 -13.5 0z M1534.2 138.94a6.75 6.75 0 1 0 13.5 0a6.75 6.75 0 1 0 -13.5 0z M1544.12 142.07a6.75 6.75 0 1 0 13.5 0a6.75 6.75 0 1 0 -13.5 0z M1554.05 146.4a6.75 6.75 0 1 0 13.5 0a6.75 6.75 0 1 0 -13.5 0z M1563.97 148.9a6.75 6.75 0 1 0 13.5 0a6.75 6.75 0 1 0 -13.5 0z M1573.9 150.3a6.75 6.75 0 1 0 13.5 0a6.75 6.75 0 1 0 -13.5 0z M1583.83 151.28a6.75 6.75 0 1 0 13.5 0a6.75 6.75 0 1 0 -13.5 0z M1593.75 151.77a6.75 6.75 0 1 0 13.5 0a6.75 6.75 0 1 0 -13.5 0z M1603.67 155.02a6.75 6.75 0 1 0 13.5 0a6.75 6.75 0 1 0 -13.5 0z M1613.6 157.43a6.75 6.75 0 1 0 13.5 0a6.75 6.75 0 1 0 -13.5 0z M1623.53 160.87a6.75 6.75 0 1 0 13.5 0a6.75 6.75 0 1 0 -13.5 0z M1633.45 161.53a6.75 6.75 0 1 0 13.5 0a6.75 6.75 0 1 0 -13.5 0z M1643.38 162.4a6.75 6.75 0 1 0 13.5 0a6.75 6.75 0 1 0 -13.5 0z M1653.3 164.52a6.75 6.75 0 1 0 13.5 0a6.75 6.75 0 1 0 -13.5 0z M1663.22 166.83a6.75 6.75 0 1 0 13.5 0a6.75 6.75 0 1 0 -13.5 0z M1673.15 170.68a6.75 6.75 0 1 0 13.5 0a6.75 6.75 0 1 0 -13.5 0z M1683.08 175.05a6.75 6.75 0 1 0 13.5 0a6.75 6.75 0 1 0 -13.5 0z M1693 175.05a6.75 6.75 0 1 0 13.5 0a6.75 6.75 0 1 0 -13.5 0z" fill="none" stroke="#0f0" stroke-width="1.7" stroke-linejoin="miter"/>
<polyline points="965.3,9.9 975.22,37.86 985.15,69.56 995.07,73.35 1005,75.62 1014.92,79.41 1024.85,81.68 1034.77,83.21 1044.7,83.94 1054.62,86.2 1064.55,87.73 1074.47,89.2 1084.4,90 1094.33,90.73 1104.25,91.47 1114.17,92.26 1124.1,93.73 1134.03,95.26 1143.95,95.81 1153.88,96.43 1163.8,97.05 1173.72,98.12 1183.65,99.28 1193.58,100.44 1203.5,101.6 1213.42,102.68 1223.35,103.51 1233.28,104.33 1243.2,105.16 1253.12,105.99 1263.05,106.77 1272.97,107.53 1282.9,108.29 1292.83,109.03 1302.75,109.75 1312.67,110.47 1322.6,110.99 1332.53,111.34 1342.45,111.7 1352.38,112.05 1362.3,112.4 1372.22,112.76 1382.15,113.05 1392.08,113.33 1402,113.61 1411.92,113.88 1421.85,114.51 1431.78,115.34 1441.7,116.17 1451.62,117 1461.55,117.81 1471.47,118.31 1481.4,118.82 1491.33,119.32 1501.25,119.83 1511.17,120.3 1521.1,120.72 1531.03,121.14 1540.95,121.62 1550.88,122.22 1560.8,124.26 1570.72,126.98 1580.65,128.32 1590.58,128.98 1600.5,128.99 1610.42,129.3 1620.35,129.82 1630.28,130.56 1640.2,131.9 1650.12,136.62 1660.05,138.07 1669.97,140.5 1679.9,147.42 1689.83,150.26 1699.75,151.62" fill="none" stroke="#00f" stroke-width="1.2" stroke-linejoin="round"/>
<path d="M960.83 1.9L974.23 9.9L960.83 17.9Z M970.76 29.86L984.16 37.86L970.76 45.86Z M980.68 61.56L994.08 69.56L980.68 77.56Z M990.61 65.35L1004.01 73.35L990.61 81.35Z M1000.53 67.62L1013.93 75.62L1000.53 83.62Z M1010.46 71.41L1023.86 79.41L1010.46 87.41Z M1020.38 73.68L1033.78 81.68L1020.38 89.68Z M1030.31 75.21L1043.71 83.21L1030.31 91.21Z M1040.23 75.94L1053.63 83.94L1040.23 91.94Z M1050.16 78.2L1063.56 86.2L1050.16 94.2Z M1060.08 79.73L1073.48 87.73L1060.08 95.73Z M1070.01 81.2L1083.41 89.2L1070.01 97.2Z M1079.93 82L1093.33 90L1079.93 98Z M1089.86 82.73L1103.26 90.73L1089.86 98.73Z M1099.78 83.47L1113.18 91.47L1099.78 99.47Z M1109.71 84.26L1123.11 92.26L1109.71 100.26Z M1119.63 85.73L1133.03 93.73L1119.63 101.73Z M1129.56 87.26L1142.96 95.26L1129.56 103.26Z M1139.48 87.81L1152.88 95.81L1139.48 103.81Z M1149.41 88.43L1162.81 96.43L1149.41 104.43Z M1159.33 89.05L1172.73 97.05L1159.33 105.05Z M1169.26 90.12L1182.66 98.12L1169.26 106.12Z M1179.18 91.28L1192.58 99.28L1179.18 107.28Z M1189.11 92.44L1202.51 100.44L1189.11 108.44Z M1199.03 93.6L1212.43 101.6L1199.03 109.6Z M1208.96 94.68L1222.36 102.68L1208.96 110.68Z M1218.88 95.51L1232.28 103.51L1218.88 111.51Z M1228.81 96.33L1242.21 104.33L1228.81 112.33Z M1238.73 97.16L1252.13 105.16L1238.73 113.16Z M1248.66 97.99L1262.06 105.99L1248.66 113.99Z M1258.58 98.77L1271.98 106.77L1258.58 114.77Z M1268.51 99.53L1281.91 107.53L1268.51 115.53Z M1278.43 100.29L1291.83 108.29L1278.43 116.29Z M1288.36 101.03L1301.76 109.03L1288.36 117.03Z M1298.28 101.75L1311.68 109.75L1298.28 117.75Z M1308.21 102.47L1321.61 110.47L1308.21 118.47Z M1318.13 102.99L1331.53 110.99L1318.13 118.99Z M1328.06 103.34L1341.46 111.34L1328.06 119.34Z M1337.98 103.7L1351.38 111.7L1337.98 119.7Z M1347.91 104.05L1361.31 112.05L1347.91 120.05Z M1357.83 104.4L1371.23 112.4L1357.83 120.4Z M1367.76 104.76L1381.16 112.76L1367.76 120.76Z M1377.68 105.05L1391.08 113.05L1377.68 121.05Z M1387.61 105.33L1401.01 113.33L1387.61 121.33Z M1397.53 105.61L1410.93 113.61L1397.53 121.61Z M1407.46 105.88L1420.86 113.88L1407.46 121.88Z M1417.38 106.51L1430.78 114.51L1417.38 122.51Z M1427.31 107.34L1440.71 115.34L1427.31 123.34Z M1437.23 108.17L1450.63 116.17L1437.23 124.17Z M1447.16 109L1460.56 117L1447.16 125Z M1457.08 109.81L1470.48 117.81L1457.08 125.81Z M1467.01 110.31L1480.41 118.31L1467.01 126.31Z M1476.93 110.82L1490.33 118.82L1476.93 126.82Z M1486.86 111.32L1500.26 119.32L1486.86 127.32Z M1496.78 111.83L1510.18 119.83L1496.78 127.83Z M1506.71 112.3L1520.11 120.3L1506.71 128.3Z M1516.63 112.72L1530.03 120.72L1516.63 128.72Z M1526.56 113.14L1539.96 121.14L1526.56 129.14Z M1536.48 113.62L1549.88 121.62L1536.48 129.62Z M1546.41 114.22L1559.81 122.22L1546.41 130.22Z M1556.33 116.26L1569.73 124.26L1556.33 132.26Z M1566.26 118.98L1579.66 126.98L1566.26 134.98Z M1576.18 120.32L1589.58 128.32L1576.18 136.32Z M1586.11 120.98L1599.51 128.98L1586.11 136.98Z M1596.03 120.99L1609.43 128.99L1596.03 136.99Z M1605.96 121.3L1619.36 129.3L1605.96 137.3Z M1615.88 121.82L1629.28 129.82L1615.88 137.82Z M1625.81 122.56L1639.21 130.56L1625.81 138.56Z M1635.73 123.9L1649.13 131.9L1635.73 139.9Z M1645.66 128.62L1659.06 136.62L1645.66 144.62Z M1655.58 130.07L1668.98 138.07L1655.58 146.07Z M1665.51 132.5L1678.91 140.5L1665.51 148.5Z M1675.43 139.42L1688.83 147.42L1675.43 155.42Z M1685.36 142.26L1698.76 150.26L1685.36 158.26Z M1695.28 143.62L1708.68 151.62L1695.28 159.62Z" fill="none" stroke="#00f" stroke-width="1.7" stroke-linejoin="miter"/>
<g font-size="22.2" fill="#262626">
<text x="964.4" y="656.6" text-anchor="middle">0</text>
<text x="1056.67" y="656.6" text-anchor="middle">0.1</text>
<text x="1148.95" y="656.6" text-anchor="middle">0.2</text>
<text x="1241.22" y="656.6" text-anchor="middle">0.3</text>
<text x="1333.5" y="656.6" text-anchor="middle">0.4</text>
<text x="1425.77" y="656.6" text-anchor="middle">0.5</text>
<text x="1518.05" y="656.6" text-anchor="middle">0.6</text>
<text x="1610.32" y="656.6" text-anchor="middle">0.7</text>
<text x="1702.6" y="656.6" text-anchor="middle">0.8</text>
<text x="955.1" y="631.3" text-anchor="end">0</text>
<text x="955.1" y="570.11" text-anchor="end">0.1</text>
<text x="955.1" y="508.92" text-anchor="end">0.2</text>
<text x="955.1" y="447.73" text-anchor="end">0.3</text>
<text x="955.1" y="386.54" text-anchor="end">0.4</text>
<text x="955.1" y="325.35" text-anchor="end">0.5</text>
<text x="955.1" y="264.16" text-anchor="end">0.6</text>
<text x="955.1" y="202.97" text-anchor="end">0.7</text>
<text x="955.1" y="141.78" text-anchor="end">0.8</text>
<text x="955.1" y="80.59" text-anchor="end">0.9</text>
<text x="955.1" y="19.4" text-anchor="end">1</text>
</g>
<text x="1333.5" y="693" font-size="25.5" text-anchor="middle" fill="#262626">Proportion of failure transmission lines</text>
<text transform="translate(910.4 316.65) rotate(-90)" font-size="24.6" text-anchor="middle" textLength="333.5" lengthAdjust="spacingAndGlyphs" fill="#262626">Proportion of survival nodes</text>
<rect x="1523.3" y="523.5" width="180.2" height="98.3" fill="#fff" stroke="#262626" stroke-width="1.2"/>
<path d="M1536.8 542.8H1604.9" stroke="#f00" stroke-width="1.2"/>
<path d="M1563 542.8H1579.4M1571.2 534.6V551M1565.3 536.9L1577.1 548.7M1565.3 548.7L1577.1 536.9" fill="none" stroke="#f00" stroke-width="1.7"/>
<text x="1611.9" y="551.6" font-size="20.3" fill="#262626">k=4.2800</text>
<path d="M1536.8 572.7H1604.9" stroke="#0f0" stroke-width="1.2"/>
<path d="M1564.45 572.7a6.75 6.75 0 1 0 13.5 0a6.75 6.75 0 1 0 -13.5 0z" fill="none" stroke="#0f0" stroke-width="1.7"/>
<text x="1611.9" y="581.5" font-size="20.3" fill="#262626">k=6.2267</text>
<path d="M1536.8 602.7H1604.9" stroke="#00f" stroke-width="1.2"/>
<path d="M1566.73 594.7L1580.13 602.7L1566.73 610.7Z" fill="none" stroke="#00f" stroke-width="1.7"/>
<text x="1611.9" y="611.5" font-size="20.3" fill="#262626">k=8.2800</text>
</g>
<g font-family="'Liberation Serif', serif" font-size="48.5" fill="#000">
<text y="779.2"><tspan x="346.6" y="780" font-size="52">(</tspan><tspan x="362.8" y="779.2" textLength="24.4" lengthAdjust="spacingAndGlyphs">a</tspan><tspan x="385.6" y="780" font-size="52">) </tspan><tspan x="423.5" y="779.2" textLength="81.6" lengthAdjust="spacingAndGlyphs">NW</tspan></text>
<text y="779.2"><tspan x="1244.2" y="780" font-size="52">(</tspan><tspan x="1262.4" y="779.2" textLength="25" lengthAdjust="spacingAndGlyphs">b</tspan><tspan x="1286.4" y="780" font-size="52">) </tspan><tspan x="1324" y="779.2" textLength="67" lengthAdjust="spacingAndGlyphs">BA</tspan></text>
</g>
</svg>
</body>
</html>
